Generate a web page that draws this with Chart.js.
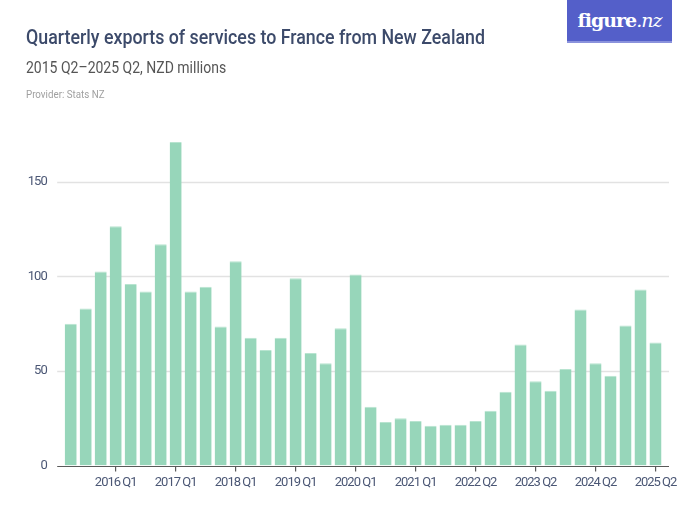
<!DOCTYPE html>
<html>
<head>
<meta charset="utf-8">
<script src="https://cdn.jsdelivr.net/npm/chart.js@4"></script>
<style>
  html, body { margin: 0; padding: 0; background: #fff; }
  #wrap { position: relative; width: 700px; height: 525px; overflow: hidden; }
  #chart { position: absolute; left: 0; top: 0; }
  .txt { position: absolute; left: 26px; white-space: nowrap; font-family: "Roboto", sans-serif; transform-origin: 0 0; }
  #title { top: 25px; font-size: 20px; color: #3c4a6a; font-weight: 500; transform: scaleX(0.89); }
  #subtitle { top: 58px; font-size: 16px; color: #555; transform: scaleX(0.875); }
  #provider { top: 88px; font-size: 10.5px; color: #a0a0a0; transform: scaleX(0.93); }
  #logo { position: absolute; left: 567px; top: 0; width: 105px; height: 41px; background: #545fc9;
          border-bottom: 2px solid #8a92dc; color: #fff; text-align: center;
          font-family: "DejaVu Serif", "Liberation Serif", serif; font-size: 19px; font-weight: bold; line-height: 40px; letter-spacing: -1px; }
  #logo i { font-weight: normal; }
</style>
</head>
<body>
<div id="wrap">
  <canvas id="chart" width="700" height="525"></canvas>
  <div id="title" class="txt">Quarterly exports of services to France from New Zealand</div>
  <div id="subtitle" class="txt">2015 Q2–2025 Q2, NZD millions</div>
  <div id="provider" class="txt">Provider: Stats NZ</div>
  <div id="logo">figure<i>.nz</i></div>
</div>
<script>
// 季度標籤（資料中缺一季）
const quarters = [
  "2015 Q2", "2015 Q3", "2015 Q4",
  "2016 Q1", "2016 Q2", "2016 Q3", "2016 Q4",
  "2017 Q1", "2017 Q2", "2017 Q3", "2017 Q4",
  "2018 Q1", "2018 Q2", "2018 Q3", "2018 Q4",
  "2019 Q1", "2019 Q2", "2019 Q3", "2019 Q4",
  "2020 Q1", "2020 Q2", "2020 Q3", "2020 Q4",
  "2021 Q1", "2021 Q2", "2021 Q3", "2021 Q4",
  "2022 Q2", "2022 Q3", "2022 Q4", "2023 Q1",
  "2023 Q2", "2023 Q3", "2023 Q4", "2024 Q1",
  "2024 Q2", "2024 Q3", "2024 Q4", "2025 Q1",
  "2025 Q2",
];

const exportsValues = [
  75, 83, 102.5,
  126.5, 96, 92, 117,
  171, 92, 94.5, 73.5,
  108, 67.5, 61, 67.5,
  99, 59.5, 54, 72.5,
  101, 31, 23, 25,
  23.5, 21, 21.5, 21.5,
  23.5, 29, 39, 64,
  44.5, 39.5, 51, 82.5,
  54, 47.5, 74, 93,
  65,
];

const shownTickLabels = [
  "2016 Q1", "2017 Q1", "2018 Q1", "2019 Q1", "2020 Q1",
  "2021 Q1", "2022 Q2", "2023 Q2", "2024 Q2", "2025 Q2",
];

const yTickValues = [0, 50, 100, 150];

const tickFont = { family: "'Roboto', sans-serif", size: 13 };
const tickColor = "#4b5775";

// 格線與底線畫得比繪圖區稍寬
const gridPlugin = {
  id: "wideGrid",
  beforeDraw(chart) {
    // 字距收窄，模擬原圖的窄體字
    chart.ctx.letterSpacing = "-1px";
  },
  beforeDatasetsDraw(chart) {
    const { ctx, chartArea, scales } = chart;
    ctx.save();
    ctx.strokeStyle = "#e2e2e2";
    ctx.lineWidth = 1.5;
    yTickValues.forEach((v) => {
      if (v === 0) return;
      const y = Math.round(scales.y.getPixelForValue(v)) + 0.5;
      ctx.beginPath();
      ctx.moveTo(chartArea.left - 6, y);
      ctx.lineTo(chartArea.right + 6, y);
      ctx.stroke();
    });
    ctx.restore();
  },
  afterDatasetsDraw(chart) {
    const { ctx, chartArea, scales } = chart;
    const y = Math.round(scales.y.getPixelForValue(0)) + 0.5;
    ctx.save();
    ctx.strokeStyle = "#5a5a5a";
    ctx.lineWidth = 1.2;
    ctx.beginPath();
    ctx.moveTo(chartArea.left - 6, y);
    ctx.lineTo(chartArea.right + 6, y);
    ctx.stroke();
    ctx.restore();
  },
};

new Chart(document.getElementById("chart"), {
  type: "bar",
  data: {
    labels: quarters,
    datasets: [
      {
        data: exportsValues,
        backgroundColor: "#97d6ba",
        borderColor: "#b8e4d0",
        borderWidth: { top: 1, left: 0, right: 0, bottom: 0 },
        borderSkipped: "start",
        categoryPercentage: 1,
        barPercentage: 0.8,
      },
    ],
  },
  options: {
    responsive: false,
    animation: false,
    layout: { padding: { left: 0, right: 37, top: 125, bottom: 0 } },
    plugins: { legend: { display: false }, tooltip: { enabled: false } },
    scales: {
      x: {
        afterFit: (s) => { s.height = 59.5; },
        border: { display: false },
        grid: {
          offset: false,
          drawOnChartArea: false,
          drawTicks: true,
          tickLength: 6,
          lineWidth: 1.2,
          color: (c) => shownTickLabels.includes(quarters[c.index]) ? "#5a5a5a" : "rgba(0,0,0,0)",
        },
        ticks: {
          autoSkip: false,
          maxRotation: 0,
          padding: 3,
          color: tickColor,
          font: tickFont,
          callback: (v, i) => shownTickLabels.includes(quarters[i]) ? quarters[i] : "",
        },
      },
      y: {
        min: 0,
        max: 180,
        afterFit: (s) => { s.width = 63.2; },
        afterBuildTicks: (s) => { s.ticks = yTickValues.map((v) => ({ value: v })); },
        border: { display: false },
        grid: { display: false, drawTicks: false },
        ticks: { padding: 16.5, color: tickColor, font: tickFont },
      },
    },
  },
  plugins: [gridPlugin],
});
</script>
</body>
</html>
